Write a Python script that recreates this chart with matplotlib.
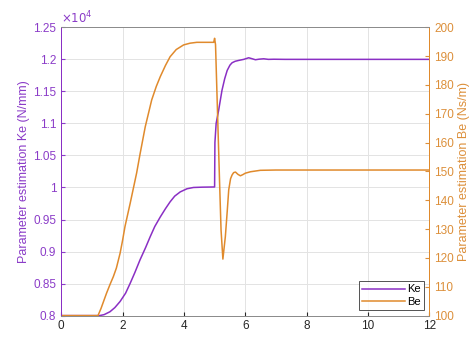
import numpy as np
import matplotlib.pyplot as plt
from matplotlib.ticker import FuncFormatter

# Colours
PURPLE = '#8a2fc4'
ORANGE = '#e08a2c'
TXT_PURPLE = '#8b3cc8'
TXT_ORANGE = '#dc8f3a'

# Data
ke_t = [0, 1.25, 1.4, 1.59, 1.75, 1.92, 2.1, 2.25, 2.4, 2.57, 2.75, 2.9, 3.05,
        3.23, 3.4, 3.55, 3.7, 3.88, 4.1, 4.31, 4.6, 5.0, 5.01, 5.05, 5.13,
        5.24, 5.33, 5.41, 5.5, 5.57, 5.67, 5.78, 5.95, 6.11, 6.22, 6.33,
        6.45, 6.6, 6.75, 6.93, 7.3, 8.0, 10.0, 12.0]
ke_val = [8000, 8000, 8015, 8060, 8125, 8220, 8350, 8505, 8670, 8870, 9060,
          9230, 9390, 9540, 9670, 9776, 9865, 9931, 9980, 10000, 10005, 10008,
          10700, 11000, 11200, 11516, 11700, 11827, 11910, 11947, 11970,
          11983, 12000, 12025, 12010, 11994, 12003, 12009, 12000, 12002,
          12000, 12000, 12000, 12000]

be_t = [0, 1.2, 1.3, 1.48, 1.6, 1.7, 1.8, 1.92, 2.0, 2.08, 2.25, 2.39, 2.46,
        2.57, 2.74, 2.95, 3.1, 3.23, 3.4, 3.55, 3.75, 3.99, 4.2, 4.42, 4.97,
        5.0, 5.03, 5.08, 5.16, 5.21, 5.27, 5.35, 5.41, 5.46, 5.52, 5.57,
        5.62, 5.68, 5.76, 5.84, 5.92, 6.0, 6.17, 6.49, 7.0, 12.0]
be_val = [100, 100, 102.5, 107.8, 111, 113.5, 116.5, 121.6, 126, 130.9, 139,
          146, 149.5, 156, 165.5, 174.8, 179.5, 182.9, 186.8, 189.8, 192.3,
          193.9, 194.5, 194.8, 194.8, 196.2, 194, 175.9, 147, 129.7, 119.6,
          127.4, 136, 143.6, 147.5, 148.8, 149.6, 149.8, 149.0, 148.5, 148.9,
          149.4, 149.9, 150.4, 150.5, 150.5]

plt.rcParams['font.family'] = ['Liberation Sans', 'DejaVu Sans']
plt.rcParams['font.size'] = 8.5

fig = plt.figure(figsize=(4.74, 3.55), dpi=100)
ax = fig.add_axes([0.129, 0.111, 0.777, 0.812])
ax2 = ax.twinx()

l1, = ax.plot(ke_t, ke_val, color=PURPLE, lw=1.1, label='Ke')
l2, = ax2.plot(be_t, be_val, color=ORANGE, lw=1.1, label='Be')

ax.set_xlim(0, 12)
ax.set_ylim(8000, 12500)
ax2.set_ylim(100, 200)
ax.set_xticks(np.arange(0, 13, 2))
ax.set_yticks(np.arange(8000, 12501, 500))
ax2.set_yticks(np.arange(100, 201, 10))
ax.yaxis.set_major_formatter(FuncFormatter(lambda v, p: '%g' % round(v / 1e4, 2)))

ax.grid(True, color='#e3e3e3', lw=0.7)
ax.set_axisbelow(True)

ax.tick_params(axis='x', direction='in', length=3, colors='#262626', labelsize=8.5)
ax.tick_params(axis='y', direction='in', length=3, colors=TXT_PURPLE, labelsize=8.5)
ax2.tick_params(axis='y', direction='in', length=3, colors=TXT_ORANGE, labelsize=8.5)

for a in (ax, ax2):
    a.spines['top'].set_color('#8c8c8c')
    a.spines['bottom'].set_color('#8c8c8c')
    a.spines['left'].set_color(PURPLE)
    a.spines['right'].set_color(ORANGE)
    for s in a.spines.values():
        s.set_linewidth(0.7)

ax.set_ylabel('Parameter estimation Ke (N/mm)', color=TXT_PURPLE, fontsize=9, labelpad=2)
ax2.set_ylabel('Parameter estimation Be (Ns/m)', color=TXT_ORANGE, fontsize=9, labelpad=3)
ax.text(0.0, 1.005, r'$\times10^{4}$', transform=ax.transAxes, color=TXT_PURPLE,
        fontsize=8.5, ha='left', va='bottom')

leg = ax2.legend([l1, l2], ['Ke', 'Be'], loc='lower right', fontsize=8,
                 frameon=True, fancybox=False, edgecolor='#262626',
                 borderaxespad=0.5, handlelength=3.8, handletextpad=0.2,
                 borderpad=0.3, labelspacing=0.2)
leg.get_frame().set_linewidth(0.7)

fig.savefig('out.png', dpi=100)
